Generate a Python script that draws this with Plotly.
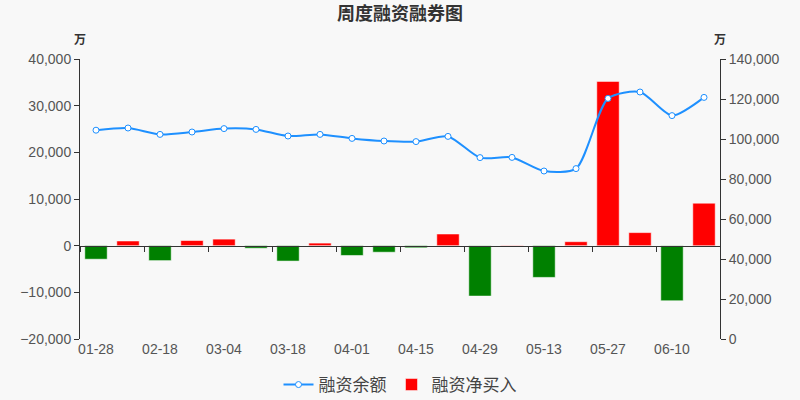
import plotly.graph_objects as go

BG = "#F8F8F8"
TEXT = "#333333"
TICK_TEXT = "#555555"
LINE_BLUE = "#1E90FF"
FONT = "'Noto Sans CJK SC', 'Liberation Sans', sans-serif"
NUM_FONT = "'Liberation Sans', 'Noto Sans CJK SC', sans-serif"

dates = ["01-28", "02-04", "02-18", "02-25", "03-04", "03-11", "03-18", "03-25",
         "04-01", "04-08", "04-15", "04-22", "04-29", "05-06", "05-13", "05-20",
         "05-27", "06-03", "06-10", "06-17"]

# 融资净买入 (万)
net_buy = [-2900, 1000, -3200, 1100, 1400, -550, -3300, 550,
           -2100, -1400, -450, 2500, -10800, 80, -6800, 850,
           35200, 2800, -11800, 9100]

# 融资余额 (万)
balance = [104400, 105500, 102300, 103500, 105200, 104800, 101500, 102300,
           100300, 99000, 98700, 101300, 90700, 90800, 84000, 85200,
           120300, 123500, 111700, 120800]

pos = [v if v >= 0 else None for v in net_buy]
neg = [v if v < 0 else None for v in net_buy]

fig = go.Figure()

fig.add_trace(go.Scatter(
    x=dates, y=balance, name="融资余额",
    mode="lines+markers",
    line=dict(color=LINE_BLUE, width=2, shape="spline", smoothing=0.7),
    marker=dict(symbol="circle", size=6, color="white",
                line=dict(color=LINE_BLUE, width=1)),
    xaxis="x2", yaxis="y2",
))

fig.add_trace(go.Bar(
    x=dates, y=pos, name="融资净买入",
    marker=dict(color="#FF0000", line=dict(color="rgba(255,255,255,0.5)", width=1)),
    width=0.7,
))
fig.add_trace(go.Bar(
    x=dates, y=neg, name="融资净买入", showlegend=False,
    marker=dict(color="#008000", line=dict(color="rgba(255,255,255,0.5)", width=1)),
    width=0.7,
))

axis_font = dict(family=NUM_FONT, size=14, color=TICK_TEXT)
x_range = [-0.5, len(dates) - 0.5]

fig.update_layout(
    width=800, height=400,
    paper_bgcolor=BG, plot_bgcolor=BG,
    font=dict(family=FONT, color=TEXT, size=13),
    margin=dict(l=80, r=80, t=59, b=61, autoexpand=False),
    barmode="overlay",
    title=dict(text="<b>周度融资融券图</b>", x=0.5, xanchor="center",
               y=1 - 14 / 400, yanchor="middle",
               font=dict(family=FONT, size=18, color=TEXT)),
    xaxis=dict(
        type="category", anchor="free", position=1 / 3, range=x_range,
        showline=True, linecolor=TEXT, linewidth=1,
        ticks="outside", ticklen=5, tickcolor=TEXT, tickson="boundaries",
        dtick=2, showticklabels=False, showgrid=False, zeroline=False,
    ),
    xaxis2=dict(
        type="category", overlaying="x", matches="x", anchor="y2", side="bottom",
        showline=False, ticks="", showgrid=False, zeroline=False,
        tickmode="array", tickvals=dates[::2], ticktext=dates[::2],
        tickfont=axis_font,
    ),
    yaxis=dict(
        range=[-20000, 40000], dtick=10000, tickformat=",",
        showline=True, linecolor=TEXT, linewidth=1,
        ticks="outside", ticklen=5, tickcolor=TEXT,
        showgrid=False, zeroline=False, tickfont=axis_font,
    ),
    yaxis2=dict(
        range=[0, 140000], dtick=20000, tickformat=",",
        overlaying="y", side="right", anchor="x2",
        showline=True, linecolor=TEXT, linewidth=1,
        ticks="outside", ticklen=5, tickcolor=TEXT,
        showgrid=False, zeroline=False, tickfont=axis_font,
    ),
    legend=dict(
        orientation="h", x=0.5, xanchor="center",
        y=(339 - 385) / 280, yanchor="middle",
        bgcolor="rgba(0,0,0,0)",
        font=dict(family=FONT, size=17, color="#444444"),
        traceorder="normal",
    ),
    showlegend=True,
)

for xp in (0, 1):
    fig.add_annotation(
        x=xp, y=(339 - 38) / 280, xref="paper", yref="paper",
        text="<b>万</b>", showarrow=False,
        font=dict(family=FONT, size=12, color=TEXT),
        xanchor="center", yanchor="middle",
    )

fig.write_html(
    "out.html",
    config={"displayModeBar": False},
    post_script="document.body.style.margin='0';document.body.style.overflow='hidden';",
)
